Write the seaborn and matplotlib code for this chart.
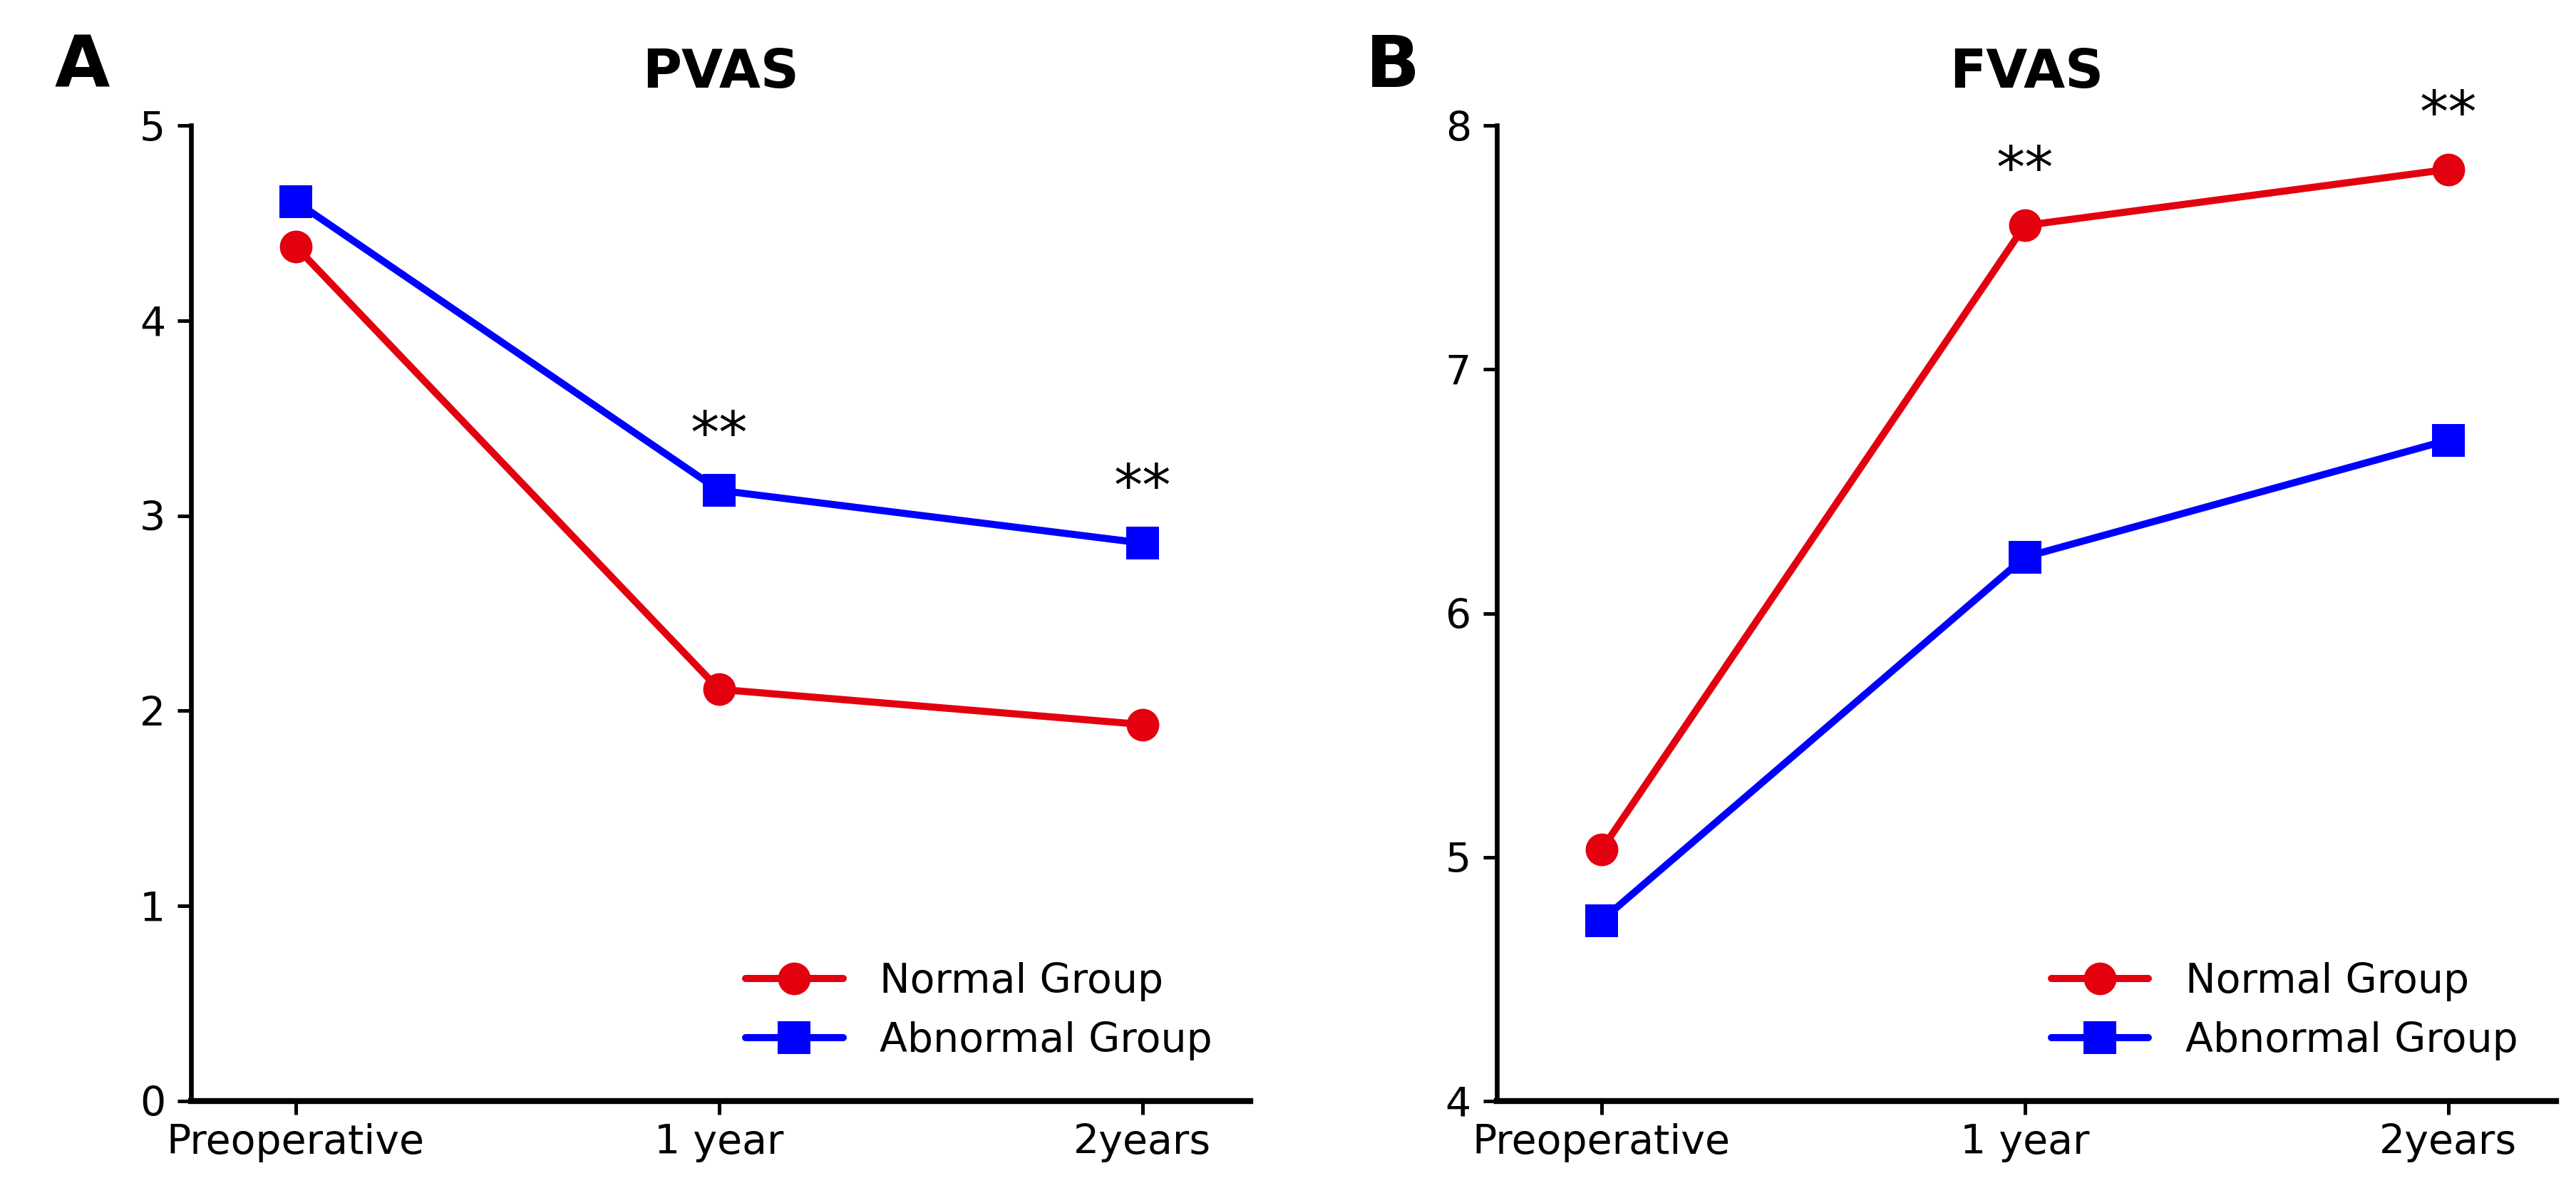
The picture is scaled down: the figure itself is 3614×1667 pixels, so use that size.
import pandas as pd
import seaborn as sns
import matplotlib.pyplot as plt
from matplotlib.lines import Line2D

sns.set_style('ticks')
plt.rcParams['font.family'] = ['DejaVu Sans']
plt.rcParams['text.color'] = 'black'
plt.rcParams['axes.edgecolor'] = 'black'

timepoints = ['Preoperative', '1 year', '2years']
groups = ['Normal Group', 'Abnormal Group']

pvas_normal = [4.38, 2.11, 1.93]
pvas_abnormal = [4.61, 3.13, 2.86]
fvas_normal = [5.03, 7.59, 7.82]
fvas_abnormal = [4.74, 6.23, 6.71]

pvas_sig = ['', '**', '**']
fvas_sig = ['', '**', '**']

colors = {'Normal Group': '#E3000F', 'Abnormal Group': '#0000FF'}
markers = {'Normal Group': 'o', 'Abnormal Group': 's'}


def long_table(normal, abnormal):
    return pd.DataFrame({
        'time': timepoints * 2,
        'score': normal + abnormal,
        'group': [groups[0]] * 3 + [groups[1]] * 3,
    })


def draw(ax, normal, abnormal, sig, title, ylim, yticks):
    df = long_table(normal, abnormal)
    sns.lineplot(data=df, x='time', y='score', hue='group', style='group',
                 markers=markers, dashes=False, palette=colors, sort=False,
                 errorbar=None, linewidth=3.6, markersize=16.5,
                 markeredgewidth=0, legend=False, ax=ax)

    # significance marks above the higher point
    for i, s in enumerate(sig):
        if s:
            y = max(normal[i], abnormal[i])
            ax.annotate(s, (i, y), xytext=(0, 27), textcoords='offset points',
                        ha='center', va='center', fontsize=29, color='black')

    sns.despine(ax=ax)
    ax.spines['left'].set_linewidth(2.4)
    ax.spines['bottom'].set_linewidth(3.0)
    ax.set_xlim(-0.247, 2.255)
    ax.set_ylim(ylim)
    ax.set_yticks(yticks)
    ax.set_xlabel('')
    ax.set_ylabel('')
    ax.tick_params(labelsize=20.5, length=7, width=1.8, color='black',
                   labelcolor='black')
    ax.tick_params(axis='y', pad=6)
    ax.tick_params(axis='x', pad=4)
    ax.set_title(title, fontsize=27, fontweight='bold', pad=19, color='black')

    handles = [Line2D([], [], color=colors[g], marker=markers[g], lw=3.6,
                      markersize=16.5, markeredgewidth=0) for g in groups]
    ax.legend(handles, groups, loc='lower right', bbox_to_anchor=(0.983, 0.021),
              frameon=False, fontsize=20.5, handlelength=2.4, handletextpad=0.9,
              borderpad=0, labelspacing=0.48, labelcolor='black')


fig = plt.figure(figsize=(18.07, 8.335), dpi=200)
ax_a = fig.add_axes([0.0742, 0.0732, 0.4112, 0.8212])
ax_b = fig.add_axes([0.5811, 0.0732, 0.4112, 0.8212])

draw(ax_a, pvas_normal, pvas_abnormal, pvas_sig, 'PVAS', (0, 5), [0, 1, 2, 3, 4, 5])
draw(ax_b, fvas_normal, fvas_abnormal, fvas_sig, 'FVAS', (4, 8), [4, 5, 6, 7, 8])

fig.text(77 / 3614, 1 - 122 / 1667, 'A', fontsize=36, fontweight='bold',
         va='baseline', color='black')
fig.text(1916 / 3614, 1 - 122 / 1667, 'B', fontsize=36, fontweight='bold',
         va='baseline', color='black')

fig.savefig('out.png', dpi=200)
